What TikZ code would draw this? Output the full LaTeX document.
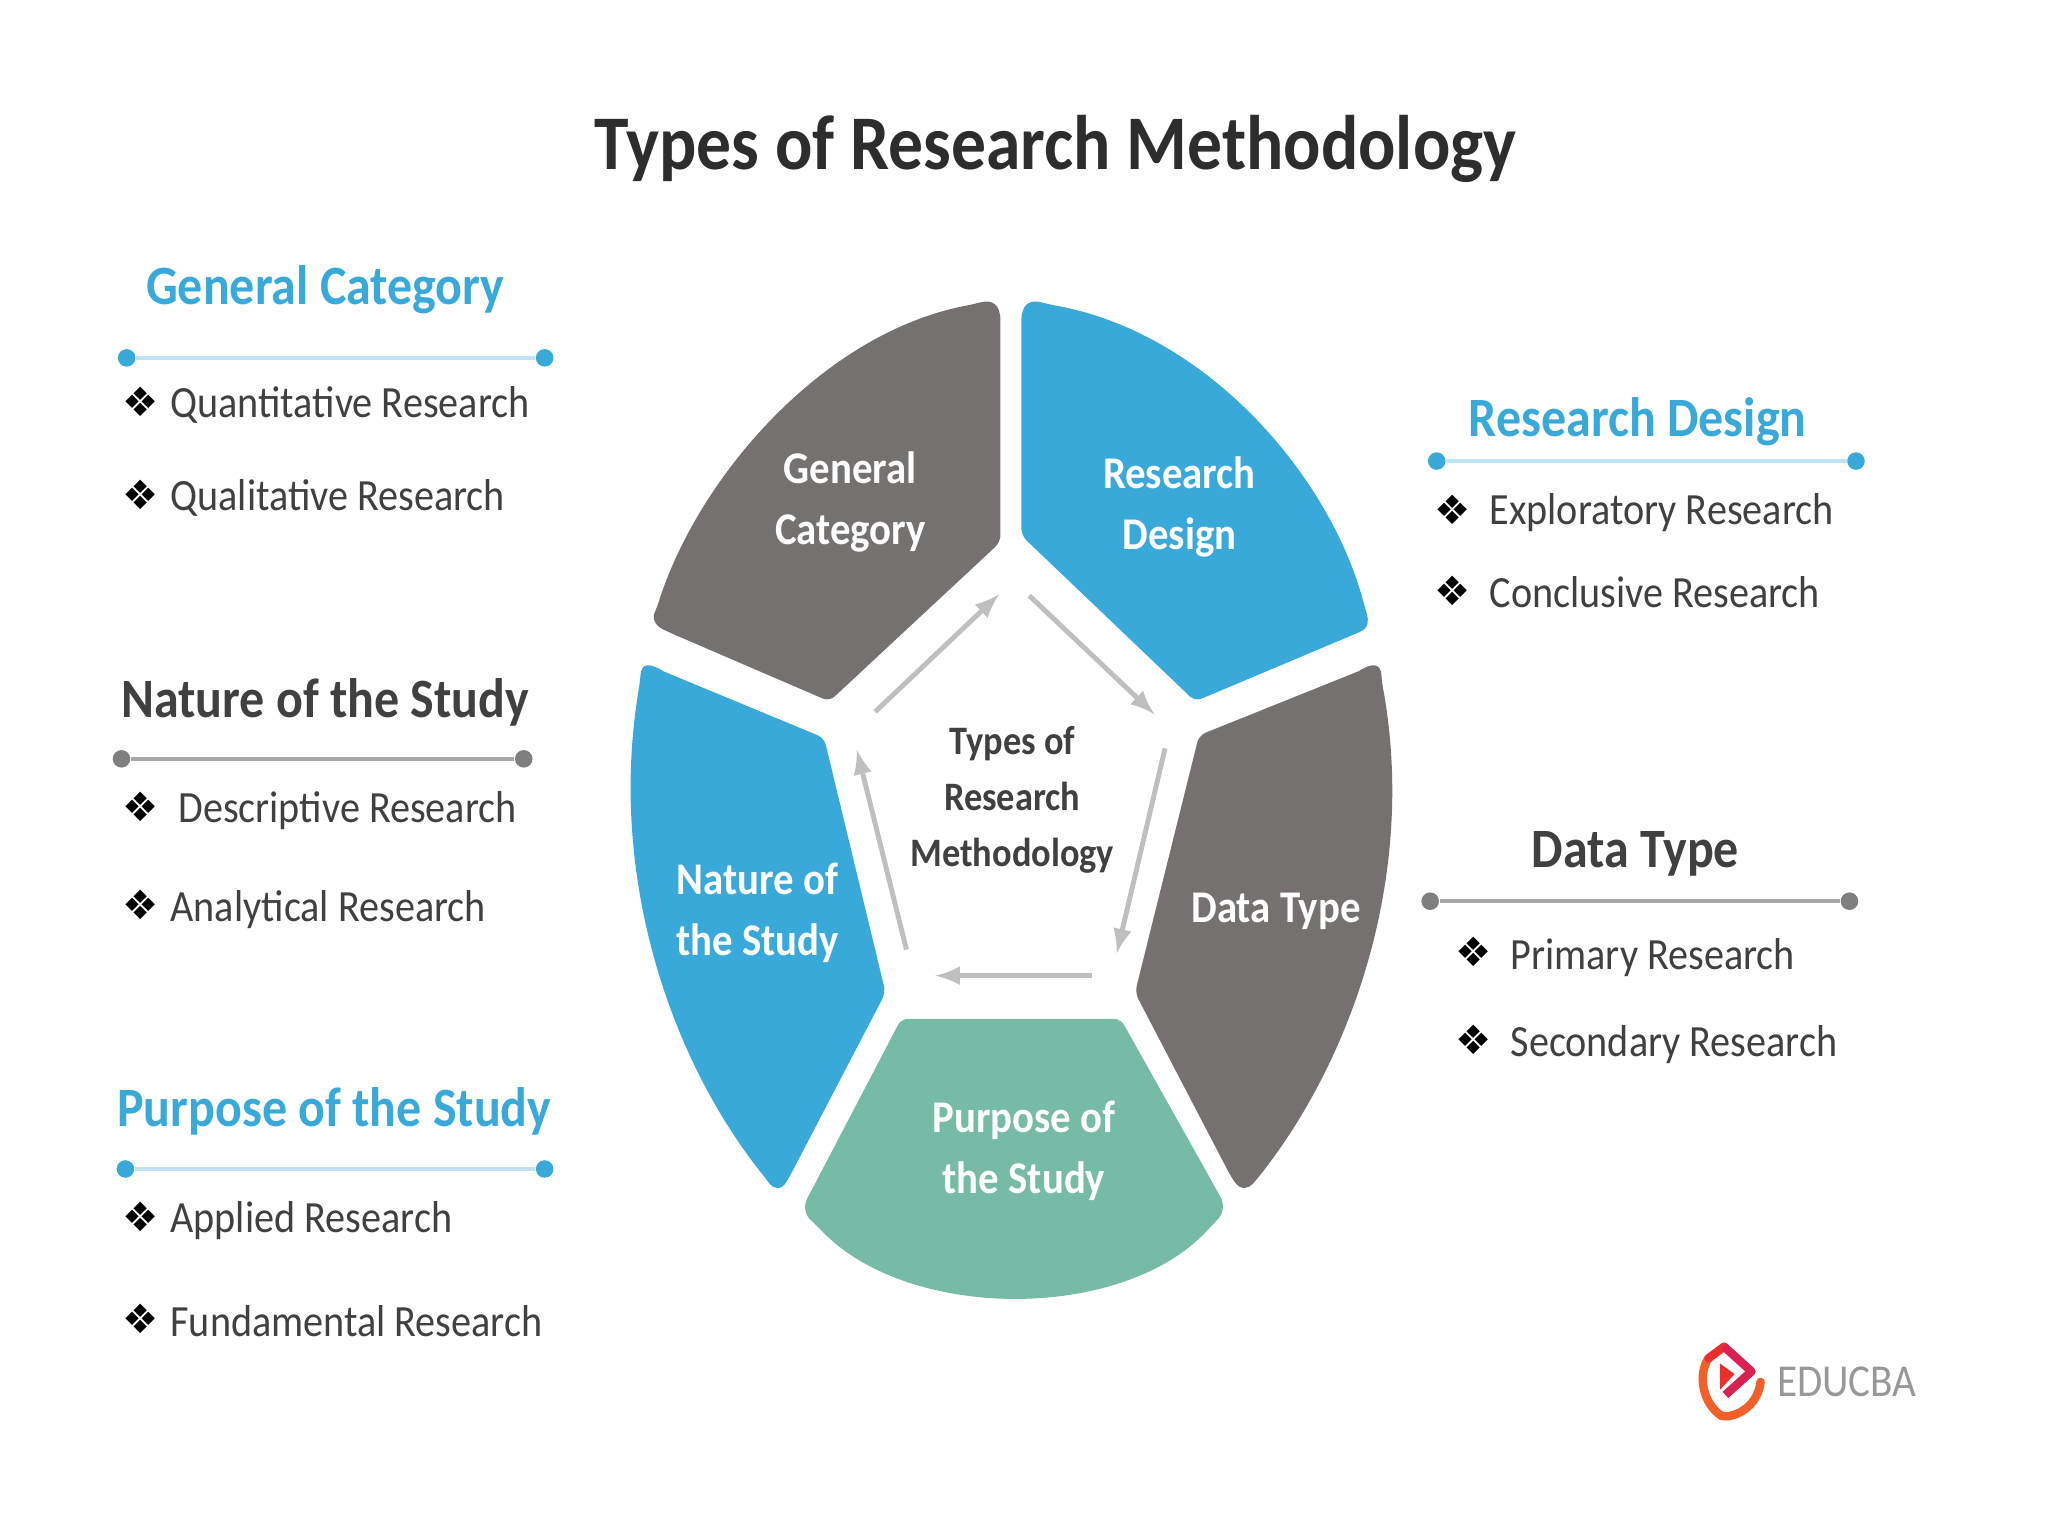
\documentclass[tikz,border=0pt]{standalone}
\usepackage{fontspec}
\setmainfont[FakeStretch=0.9]{Carlito}
\newfontfamily\symbfont{DejaVu Sans}
\usepackage{tikz}
\usetikzlibrary{arrows.meta}
\tikzset{>=latex}
\usepackage{xcolor}
\definecolor{myblue}{HTML}{39A9DA}
\definecolor{mylightblue}{HTML}{BFE3F5}
\definecolor{mygray}{HTML}{767171}
\definecolor{mygreen}{HTML}{76BBA5}
\definecolor{mydark}{HTML}{404040}
\definecolor{mydot}{HTML}{7F7F7F}
\definecolor{myline}{HTML}{A6A6A6}
\definecolor{myarrow}{HTML}{BFBFBF}
\definecolor{logored}{HTML}{E9302F}
\definecolor{logopink}{HTML}{DB2152}
\definecolor{logoorange}{HTML}{F2602A}
\tikzstyle{petal}=[rounded corners=2pt]
\tikzstyle{petaltext}=[white,align=center,yshift=-0.04cm,font=\fontsize{12.9}{17.4}\selectfont\bfseries]
\tikzstyle{centertext}=[mydark,align=center,yshift=-0.03cm,font=\fontsize{11.5}{15.9}\selectfont\bfseries]
\tikzstyle{heading}=[yshift=-0.04cm,font=\fontsize{15.8}{18}\selectfont\bfseries]
\tikzstyle{item}=[mydark,anchor=west,inner sep=0,yshift=-0.05cm,text height=1.5ex,text depth=.4ex,font=\fontsize{12.7}{14}\selectfont]
\tikzstyle{bullet}=[black,inner sep=0,font=\symbfont\fontsize{11.5}{14}\selectfont]
\tikzstyle{bluedot}=[circle,fill=myblue,inner sep=0,minimum size=5pt]
\tikzstyle{graydot}=[circle,fill=mydot,inner sep=0,minimum size=5pt]
\tikzstyle{flow}=[->,myarrow,line width=1.4pt]

\begin{document}
\begin{tikzpicture}[x=0.0130612cm,y=-0.0130612cm]
    \useasboundingbox (0,0) rectangle (1568,1176);

    \node[mydark!70!black,font=\fontsize{22}{26}\selectfont\bfseries] (title) at (808,114) {Types of Research Methodology};

    \fill[mygray,petal] (766,246)--(766,415)--(635,537)--(512,484)..controls (500,478) and (500,472)..(503,465)..controls (535,365) and (630,255)..(745,233)..controls (760,229) and (766,233)..(766,246);
    \fill[myblue,petal] (782,246)--(782,410)--(915,537)--(1036,486)..controls (1048,481) and (1048,475)..(1045,465)..controls (1018,365) and (925,255)..(803,233)..controls (788,229) and (782,233)..(782,246);
    \fill[mygray,petal] (1040,514)--(918,563)--(869,760)--(942,900)..controls (950,912) and (956,910)..(963,902)..controls (1035,810) and (1085,670)..(1058,522)..controls (1057,508) and (1051,507)..(1040,514);
    \fill[myblue,petal] (508,514)--(631,565)--(678,760)--(605,900)..controls (598,912) and (592,910)..(586,902)..controls (513,810) and (465,670)..(490,522)..controls (491,508) and (497,507)..(508,514);
    \fill[mygreen,petal] (690,780)--(858,780)--(932,912)..controls (938,923) and (936,930)..(928,938)..controls (860,1012) and (695,1012)..(625,938)..controls (616,930) and (615,923)..(621,912)--cycle;

    \node[petaltext] (general) at (651,381) {General\\Category};
    \node[petaltext] (design) at (903,385) {Research\\Design};
    \node[petaltext] (data) at (977,695) {Data Type};
    \node[petaltext] (nature) at (580,696) {Nature of\\the Study};
    \node[petaltext] (purpose) at (784,878) {Purpose of\\the Study};
    \node[centertext] (center) at (775,610) {Types of\\Research\\Methodology};

    \coordinate (a1) at (670,545);
    \coordinate (a2) at (765,455);
    \coordinate (b1) at (788,456);
    \coordinate (b2) at (884,547);
    \coordinate (c1) at (892,573);
    \coordinate (c2) at (855,730);
    \coordinate (d1) at (836,747);
    \coordinate (d2) at (716,747);
    \coordinate (e1) at (694,727);
    \coordinate (e2) at (656,574);
    \draw[flow] (a1)--(a2);
    \draw[flow] (b1)--(b2);
    \draw[flow] (c1)--(c2);
    \draw[flow] (d1)--(d2);
    \draw[flow] (e1)--(e2);

    \node[heading,myblue] (h1) at (249,219) {General Category};
    \node[bluedot] (h1l) at (97,274) {};
    \node[bluedot] (h1r) at (417,274) {};
    \draw[mylightblue,line width=1.1pt] (h1l)--(h1r);
    \node[bullet] (s11) at (108,308) {❖};
    \node[item] (i11) at (130,309) {Quantitative Research};
    \node[bullet] (s12) at (108,379) {❖};
    \node[item] (i12) at (130,380) {Qualitative Research};

    \node[heading,mydark] (h2) at (249,535) {Nature of the Study};
    \node[graydot] (h2l) at (93,581) {};
    \node[graydot] (h2r) at (401,581) {};
    \draw[myline,line width=1.1pt] (h2l)--(h2r);
    \node[bullet] (s21) at (108,618) {❖};
    \node[item] (i21) at (136,619) {Descriptive Research};
    \node[bullet] (s22) at (108,693) {❖};
    \node[item] (i22) at (130,695) {Analytical Research};

    \node[heading,myblue] (h3) at (256,848) {Purpose of the Study};
    \node[bluedot] (h3l) at (96,895) {};
    \node[bluedot] (h3r) at (417,895) {};
    \draw[mylightblue,line width=1.1pt] (h3l)--(h3r);
    \node[bullet] (s31) at (108,932) {❖};
    \node[item] (i31) at (130,933) {Applied Research};
    \node[bullet] (s32) at (108,1010) {❖};
    \node[item] (i32) at (130,1012) {Fundamental Research};

    \node[heading,myblue] (h4) at (1254,320) {Research Design};
    \node[bluedot] (h4l) at (1100,353) {};
    \node[bluedot] (h4r) at (1421,353) {};
    \draw[mylightblue,line width=1.1pt] (h4l)--(h4r);
    \node[bullet] (s41) at (1112,390) {❖};
    \node[item] (i41) at (1140,391) {Exploratory Research};
    \node[bullet] (s42) at (1112,452) {❖};
    \node[item] (i42) at (1140,454) {Conclusive Research};

    \node[heading,mydark] (h5) at (1252,651) {Data Type};
    \node[graydot] (h5l) at (1095,690) {};
    \node[graydot] (h5r) at (1416,690) {};
    \draw[myline,line width=1.1pt] (h5l)--(h5r);
    \node[bullet] (s51) at (1128,729) {❖};
    \node[item] (i51) at (1156,731) {Primary Research};
    \node[bullet] (s52) at (1128,796) {❖};
    \node[item] (i52) at (1156,798) {Secondary Research};

    \draw[logoorange,line width=2.4pt,line cap=round] (1348,1058)..controls (1345,1080) and (1325,1086)..(1318,1084)..controls (1303,1074) and (1300,1052)..(1308,1040);
    \draw[logored,line width=2.4pt,line cap=round] (1308,1040)--(1320,1031);
    \draw[logopink,line width=2.4pt,line join=round] (1320,1031)--(1341,1050)--(1321,1068);
    \fill[logored] (1317,1044)--(1328,1052)--(1317,1064)--cycle;
    \node[mydot!80,font=\fontsize{13}{15}\selectfont] (logo) at (1414,1058) {EDUCBA};
\end{tikzpicture}
\end{document}
